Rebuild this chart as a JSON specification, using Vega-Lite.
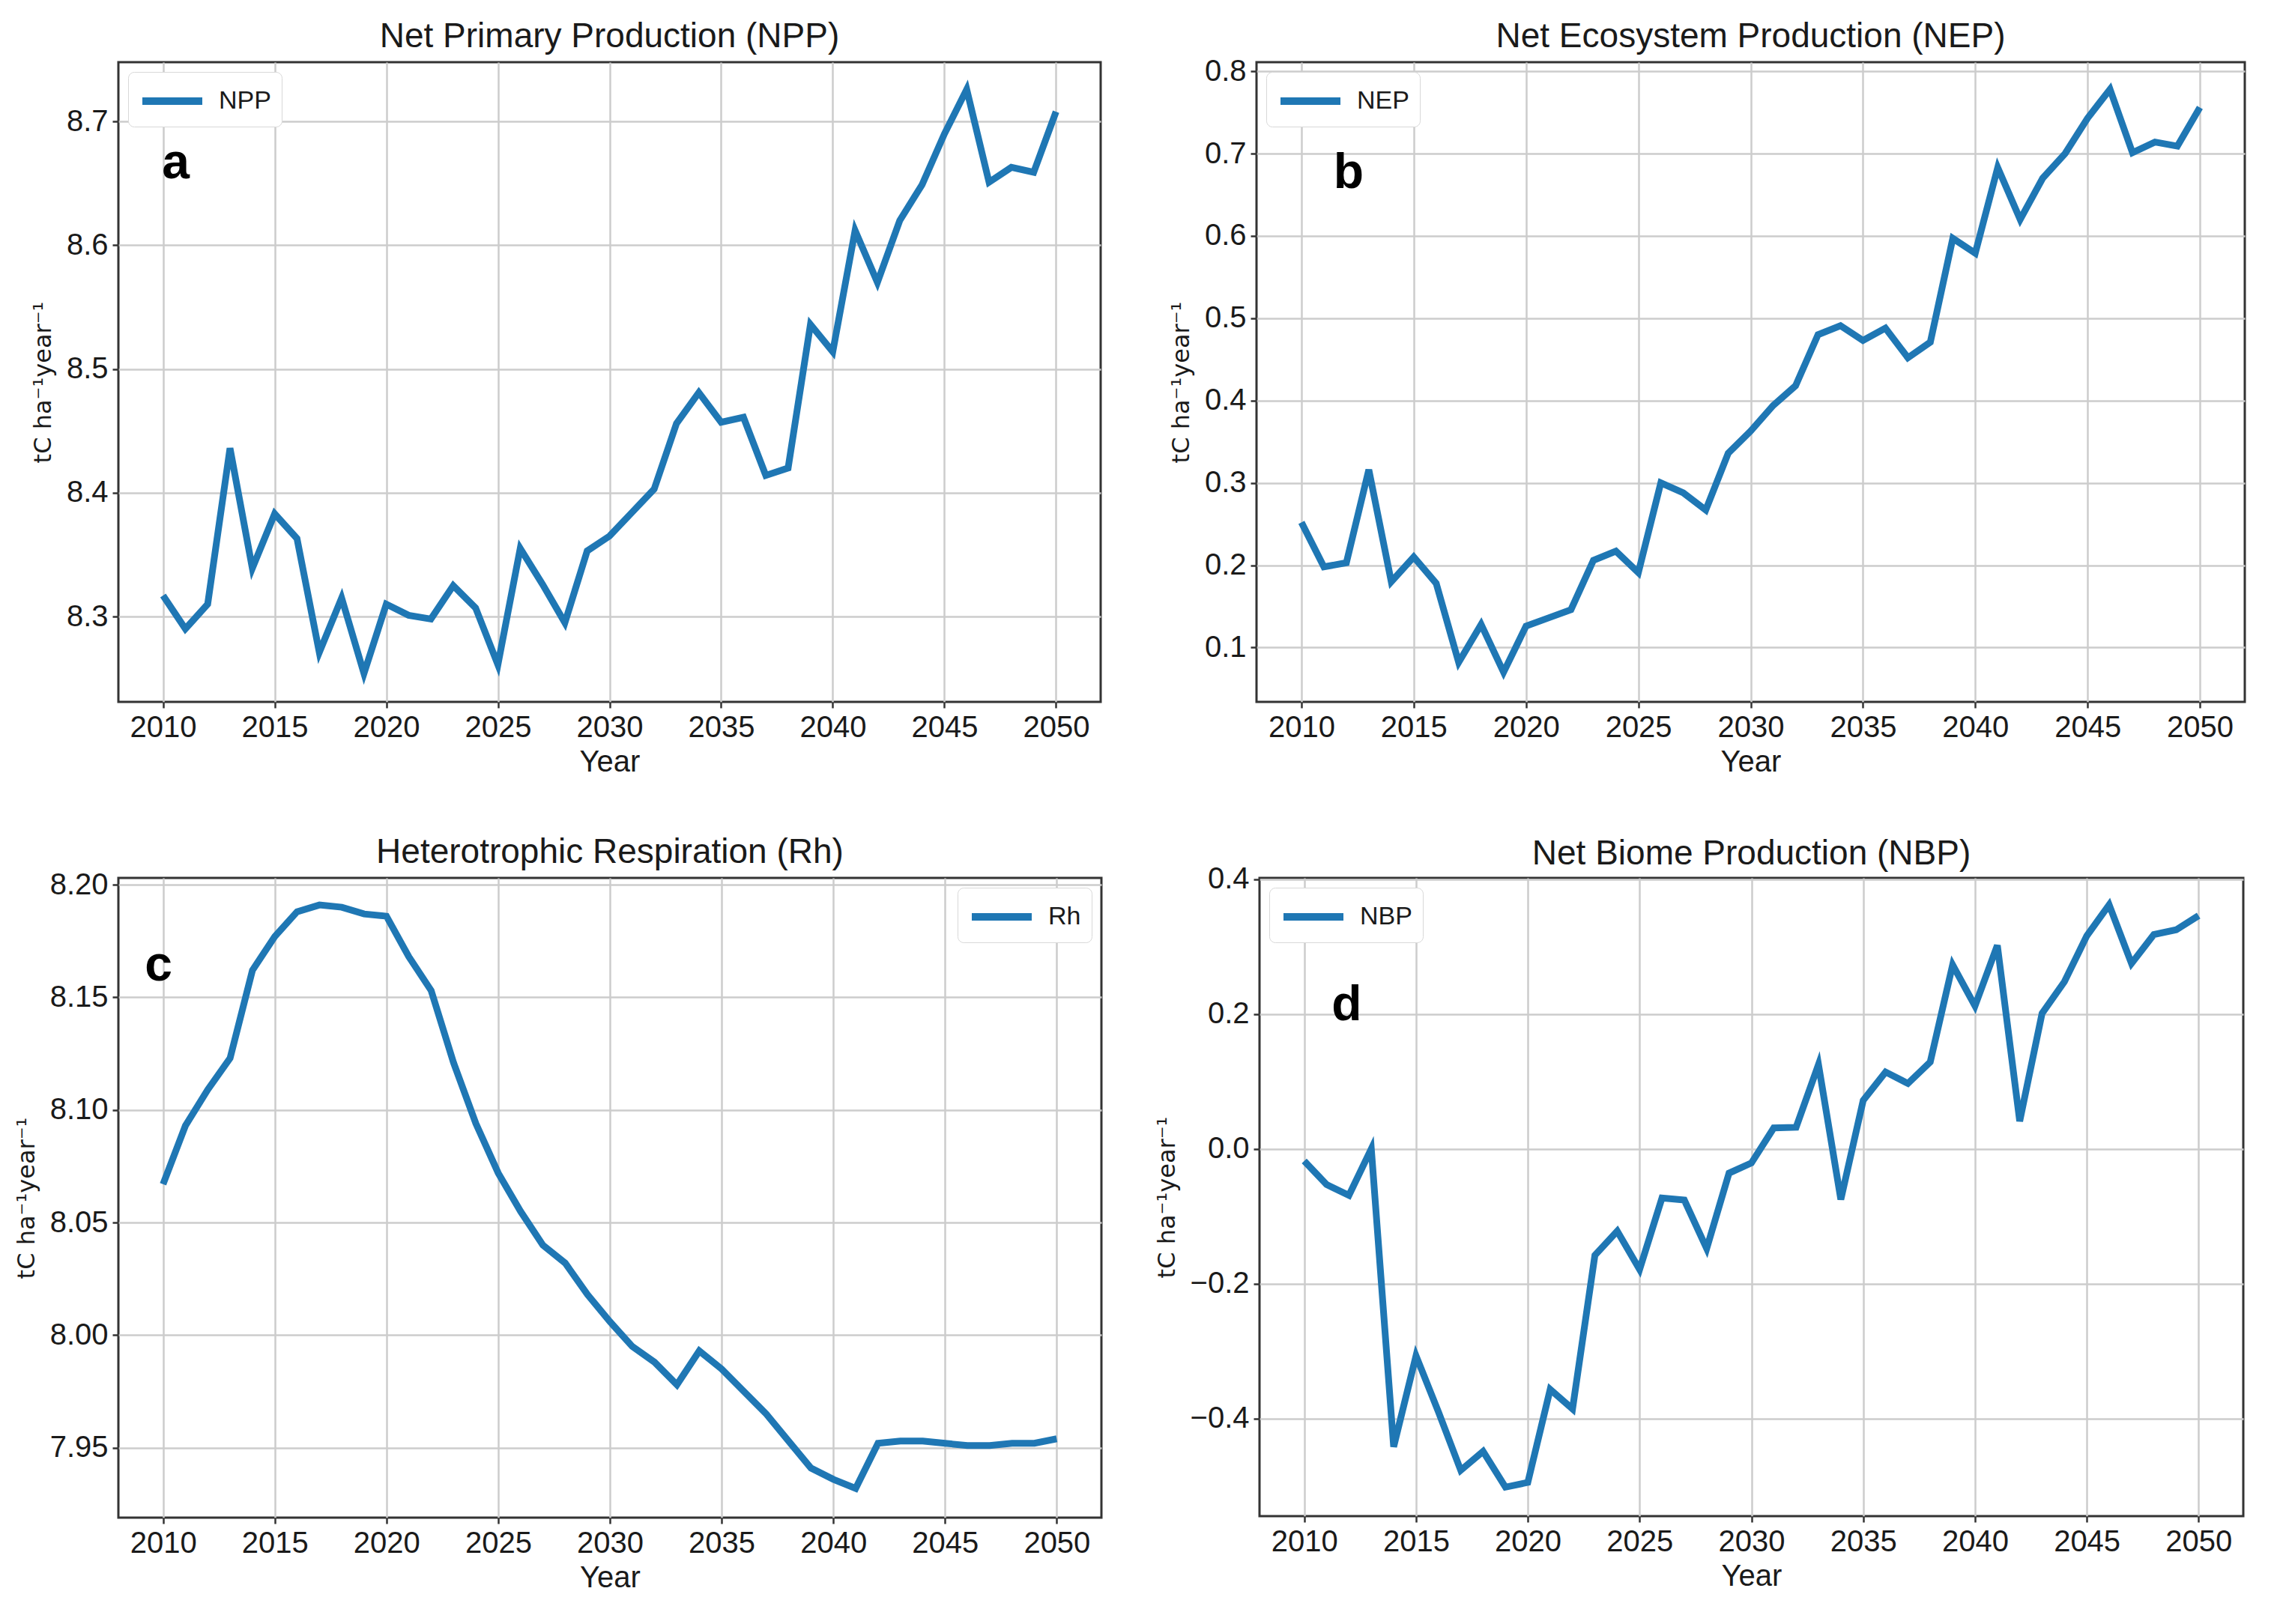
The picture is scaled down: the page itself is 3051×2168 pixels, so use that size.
{
  "$schema": "https://vega.github.io/schema/vega-lite/v6.json",
  "background": "white",
  "padding": {"left": 17, "top": 24, "right": 10, "bottom": 10},
  "config": {
    "font": "Liberation Sans",
    "view": {"stroke": "#333333", "strokeWidth": 3},
    "axis": {
      "domain": false,
      "gridColor": "#cccccc",
      "gridWidth": 2.5,
      "tickColor": "#333333",
      "tickSize": 8,
      "tickWidth": 2.5,
      "labelFont": "Liberation Sans",
      "labelFontSize": 40,
      "labelColor": "#1a1a1a",
      "labelPadding": 6,
      "titleFont": "Liberation Sans",
      "titleFontSize": 40,
      "titleFontWeight": "normal",
      "titleColor": "#1a1a1a"
    },
    "axisY": {"titleFont": "DejaVu Sans", "titleFontSize": 32, "titlePadding": 14},
    "axisX": {"titlePadding": 6},
    "title": {"font": "Liberation Sans", "fontSize": 46, "fontWeight": "normal", "color": "#1a1a1a", "offset": 10, "frame": "group"},
    "legend": {
      "title": null,
      "offset": 13,
      "symbolType": "M-2,0H2",
      "symbolStrokeWidth": 10,
      "symbolSize": 1600,
      "symbolOffset": 20,
      "labelFont": "Liberation Sans",
      "labelFontSize": 34,
      "labelColor": "#1a1a1a",
      "labelOffset": 37,
      "strokeColor": "#d8d8d8",
      "fillColor": "white",
      "padding": 14,
      "cornerRadius": 8
    }
  },
  "resolve": {"scale": {"color": "independent"}, "legend": {"color": "independent"}},
  "spacing": 74,
  "vconcat": [
    {
      "spacing": 87,
      "resolve": {"scale": {"color": "independent"}, "legend": {"color": "independent"}},
      "hconcat": [
        {
          "width": 1311,
          "height": 854,
          "title": {"text": "Net Primary Production (NPP)", "offset": 10},
          "layer": [
            {
              "data": {"values": [
                {"year": 2010, "value": 8.317, "series": "NPP"},
                {"year": 2011, "value": 8.290, "series": "NPP"},
                {"year": 2012, "value": 8.310, "series": "NPP"},
                {"year": 2013, "value": 8.436, "series": "NPP"},
                {"year": 2014, "value": 8.339, "series": "NPP"},
                {"year": 2015, "value": 8.383, "series": "NPP"},
                {"year": 2016, "value": 8.363, "series": "NPP"},
                {"year": 2017, "value": 8.271, "series": "NPP"},
                {"year": 2018, "value": 8.315, "series": "NPP"},
                {"year": 2019, "value": 8.254, "series": "NPP"},
                {"year": 2020, "value": 8.310, "series": "NPP"},
                {"year": 2021, "value": 8.301, "series": "NPP"},
                {"year": 2022, "value": 8.298, "series": "NPP"},
                {"year": 2023, "value": 8.325, "series": "NPP"},
                {"year": 2024, "value": 8.307, "series": "NPP"},
                {"year": 2025, "value": 8.261, "series": "NPP"},
                {"year": 2026, "value": 8.355, "series": "NPP"},
                {"year": 2027, "value": 8.326, "series": "NPP"},
                {"year": 2028, "value": 8.295, "series": "NPP"},
                {"year": 2029, "value": 8.353, "series": "NPP"},
                {"year": 2030, "value": 8.365, "series": "NPP"},
                {"year": 2031, "value": 8.384, "series": "NPP"},
                {"year": 2032, "value": 8.403, "series": "NPP"},
                {"year": 2033, "value": 8.456, "series": "NPP"},
                {"year": 2034, "value": 8.481, "series": "NPP"},
                {"year": 2035, "value": 8.457, "series": "NPP"},
                {"year": 2036, "value": 8.461, "series": "NPP"},
                {"year": 2037, "value": 8.414, "series": "NPP"},
                {"year": 2038, "value": 8.420, "series": "NPP"},
                {"year": 2039, "value": 8.536, "series": "NPP"},
                {"year": 2040, "value": 8.514, "series": "NPP"},
                {"year": 2041, "value": 8.612, "series": "NPP"},
                {"year": 2042, "value": 8.570, "series": "NPP"},
                {"year": 2043, "value": 8.620, "series": "NPP"},
                {"year": 2044, "value": 8.649, "series": "NPP"},
                {"year": 2045, "value": 8.690, "series": "NPP"},
                {"year": 2046, "value": 8.726, "series": "NPP"},
                {"year": 2047, "value": 8.651, "series": "NPP"},
                {"year": 2048, "value": 8.663, "series": "NPP"},
                {"year": 2049, "value": 8.659, "series": "NPP"},
                {"year": 2050, "value": 8.708, "series": "NPP"}
              ]},
              "mark": {"type": "line", "strokeWidth": 9},
              "encoding": {
                "x": {"field": "year", "type": "quantitative", "scale": {"domain": [2008, 2052], "nice": false, "zero": false}, "axis": {"values": [2010, 2015, 2020, 2025, 2030, 2035, 2040, 2045, 2050], "format": "d", "title": "Year"}},
                "y": {"field": "value", "type": "quantitative", "scale": {"domain": [8.231, 8.748], "nice": false, "zero": false}, "axis": {"values": [8.3, 8.4, 8.5, 8.6, 8.7], "format": ".1f", "title": "tC ha⁻¹year⁻¹"}},
                "color": {"field": "series", "type": "nominal", "scale": {"range": ["#1f77b4"]}, "legend": {"orient": "top-left"}}
              }
            },
            {
              "data": {"values": [{}]},
              "mark": {"type": "text", "text": "a", "fontSize": 66, "fontWeight": "bold", "color": "black", "font": "Liberation Sans"},
              "encoding": {"x": {"datum": 2010.57, "type": "quantitative"}, "y": {"datum": 8.666, "type": "quantitative"}}
            }
          ]
        },
        {
          "width": 1319,
          "height": 854,
          "title": {"text": "Net Ecosystem Production (NEP)", "offset": 2},
          "layer": [
            {
              "data": {"values": [
                {"year": 2010, "value": 0.252, "series": "NEP"},
                {"year": 2011, "value": 0.198, "series": "NEP"},
                {"year": 2012, "value": 0.203, "series": "NEP"},
                {"year": 2013, "value": 0.316, "series": "NEP"},
                {"year": 2014, "value": 0.180, "series": "NEP"},
                {"year": 2015, "value": 0.210, "series": "NEP"},
                {"year": 2016, "value": 0.178, "series": "NEP"},
                {"year": 2017, "value": 0.082, "series": "NEP"},
                {"year": 2018, "value": 0.128, "series": "NEP"},
                {"year": 2019, "value": 0.070, "series": "NEP"},
                {"year": 2020, "value": 0.126, "series": "NEP"},
                {"year": 2021, "value": 0.136, "series": "NEP"},
                {"year": 2022, "value": 0.146, "series": "NEP"},
                {"year": 2023, "value": 0.206, "series": "NEP"},
                {"year": 2024, "value": 0.217, "series": "NEP"},
                {"year": 2025, "value": 0.191, "series": "NEP"},
                {"year": 2026, "value": 0.300, "series": "NEP"},
                {"year": 2027, "value": 0.288, "series": "NEP"},
                {"year": 2028, "value": 0.267, "series": "NEP"},
                {"year": 2029, "value": 0.336, "series": "NEP"},
                {"year": 2030, "value": 0.363, "series": "NEP"},
                {"year": 2031, "value": 0.394, "series": "NEP"},
                {"year": 2032, "value": 0.418, "series": "NEP"},
                {"year": 2033, "value": 0.480, "series": "NEP"},
                {"year": 2034, "value": 0.491, "series": "NEP"},
                {"year": 2035, "value": 0.473, "series": "NEP"},
                {"year": 2036, "value": 0.488, "series": "NEP"},
                {"year": 2037, "value": 0.452, "series": "NEP"},
                {"year": 2038, "value": 0.471, "series": "NEP"},
                {"year": 2039, "value": 0.597, "series": "NEP"},
                {"year": 2040, "value": 0.579, "series": "NEP"},
                {"year": 2041, "value": 0.683, "series": "NEP"},
                {"year": 2042, "value": 0.620, "series": "NEP"},
                {"year": 2043, "value": 0.670, "series": "NEP"},
                {"year": 2044, "value": 0.700, "series": "NEP"},
                {"year": 2045, "value": 0.743, "series": "NEP"},
                {"year": 2046, "value": 0.778, "series": "NEP"},
                {"year": 2047, "value": 0.701, "series": "NEP"},
                {"year": 2048, "value": 0.714, "series": "NEP"},
                {"year": 2049, "value": 0.709, "series": "NEP"},
                {"year": 2050, "value": 0.756, "series": "NEP"}
              ]},
              "mark": {"type": "line", "strokeWidth": 9},
              "encoding": {
                "x": {"field": "year", "type": "quantitative", "scale": {"domain": [2008, 2052], "nice": false, "zero": false}, "axis": {"values": [2010, 2015, 2020, 2025, 2030, 2035, 2040, 2045, 2050], "format": "d", "title": "Year"}},
                "y": {"field": "value", "type": "quantitative", "scale": {"domain": [0.034, 0.811], "nice": false, "zero": false}, "axis": {"values": [0.1, 0.2, 0.3, 0.4, 0.5, 0.6, 0.7, 0.8], "format": ".1f", "title": "tC ha⁻¹year⁻¹"}},
                "color": {"field": "series", "type": "nominal", "scale": {"range": ["#1f77b4"]}, "legend": {"orient": "top-left"}}
              }
            },
            {
              "data": {"values": [{}]},
              "mark": {"type": "text", "text": "b", "fontSize": 66, "fontWeight": "bold", "color": "black", "font": "Liberation Sans"},
              "encoding": {"x": {"datum": 2012.1, "type": "quantitative"}, "y": {"datum": 0.676, "type": "quantitative"}}
            }
          ]
        }
      ]
    },
    {
      "spacing": 67,
      "resolve": {"scale": {"color": "independent"}, "legend": {"color": "independent"}},
      "hconcat": [
        {
          "width": 1312,
          "height": 854,
          "title": {"text": "Heterotrophic Respiration (Rh)", "offset": -1},
          "layer": [
            {
              "data": {"values": [
                {"year": 2010, "value": 8.067, "series": "Rh"},
                {"year": 2011, "value": 8.093, "series": "Rh"},
                {"year": 2012, "value": 8.109, "series": "Rh"},
                {"year": 2013, "value": 8.123, "series": "Rh"},
                {"year": 2014, "value": 8.162, "series": "Rh"},
                {"year": 2015, "value": 8.177, "series": "Rh"},
                {"year": 2016, "value": 8.188, "series": "Rh"},
                {"year": 2017, "value": 8.191, "series": "Rh"},
                {"year": 2018, "value": 8.190, "series": "Rh"},
                {"year": 2019, "value": 8.187, "series": "Rh"},
                {"year": 2020, "value": 8.186, "series": "Rh"},
                {"year": 2021, "value": 8.168, "series": "Rh"},
                {"year": 2022, "value": 8.153, "series": "Rh"},
                {"year": 2023, "value": 8.121, "series": "Rh"},
                {"year": 2024, "value": 8.094, "series": "Rh"},
                {"year": 2025, "value": 8.072, "series": "Rh"},
                {"year": 2026, "value": 8.055, "series": "Rh"},
                {"year": 2027, "value": 8.040, "series": "Rh"},
                {"year": 2028, "value": 8.032, "series": "Rh"},
                {"year": 2029, "value": 8.018, "series": "Rh"},
                {"year": 2030, "value": 8.006, "series": "Rh"},
                {"year": 2031, "value": 7.995, "series": "Rh"},
                {"year": 2032, "value": 7.988, "series": "Rh"},
                {"year": 2033, "value": 7.978, "series": "Rh"},
                {"year": 2034, "value": 7.993, "series": "Rh"},
                {"year": 2035, "value": 7.985, "series": "Rh"},
                {"year": 2036, "value": 7.975, "series": "Rh"},
                {"year": 2037, "value": 7.965, "series": "Rh"},
                {"year": 2038, "value": 7.953, "series": "Rh"},
                {"year": 2039, "value": 7.941, "series": "Rh"},
                {"year": 2040, "value": 7.936, "series": "Rh"},
                {"year": 2041, "value": 7.932, "series": "Rh"},
                {"year": 2042, "value": 7.952, "series": "Rh"},
                {"year": 2043, "value": 7.953, "series": "Rh"},
                {"year": 2044, "value": 7.953, "series": "Rh"},
                {"year": 2045, "value": 7.952, "series": "Rh"},
                {"year": 2046, "value": 7.951, "series": "Rh"},
                {"year": 2047, "value": 7.951, "series": "Rh"},
                {"year": 2048, "value": 7.952, "series": "Rh"},
                {"year": 2049, "value": 7.952, "series": "Rh"},
                {"year": 2050, "value": 7.954, "series": "Rh"}
              ]},
              "mark": {"type": "line", "strokeWidth": 9},
              "encoding": {
                "x": {"field": "year", "type": "quantitative", "scale": {"domain": [2008, 2052], "nice": false, "zero": false}, "axis": {"values": [2010, 2015, 2020, 2025, 2030, 2035, 2040, 2045, 2050], "format": "d", "title": "Year"}},
                "y": {"field": "value", "type": "quantitative", "scale": {"domain": [7.919, 8.203], "nice": false, "zero": false}, "axis": {"values": [7.95, 8.0, 8.05, 8.1, 8.15, 8.2], "format": ".2f", "title": "tC ha⁻¹year⁻¹"}},
                "color": {"field": "series", "type": "nominal", "scale": {"range": ["#1f77b4"]}, "legend": {"orient": "top-right"}}
              }
            },
            {
              "data": {"values": [{}]},
              "mark": {"type": "text", "text": "c", "fontSize": 66, "fontWeight": "bold", "color": "black", "font": "Liberation Sans"},
              "encoding": {"x": {"datum": 2009.8, "type": "quantitative"}, "y": {"datum": 8.164, "type": "quantitative"}}
            }
          ]
        },
        {
          "width": 1313,
          "height": 852,
          "title": {"text": "Net Biome Production (NBP)", "offset": -10},
          "layer": [
            {
              "data": {"values": [
                {"year": 2010, "value": -0.018, "series": "NBP"},
                {"year": 2011, "value": -0.053, "series": "NBP"},
                {"year": 2012, "value": -0.069, "series": "NBP"},
                {"year": 2013, "value": 0.000, "series": "NBP"},
                {"year": 2014, "value": -0.442, "series": "NBP"},
                {"year": 2015, "value": -0.307, "series": "NBP"},
                {"year": 2016, "value": -0.390, "series": "NBP"},
                {"year": 2017, "value": -0.477, "series": "NBP"},
                {"year": 2018, "value": -0.449, "series": "NBP"},
                {"year": 2019, "value": -0.502, "series": "NBP"},
                {"year": 2020, "value": -0.495, "series": "NBP"},
                {"year": 2021, "value": -0.357, "series": "NBP"},
                {"year": 2022, "value": -0.386, "series": "NBP"},
                {"year": 2023, "value": -0.158, "series": "NBP"},
                {"year": 2024, "value": -0.122, "series": "NBP"},
                {"year": 2025, "value": -0.179, "series": "NBP"},
                {"year": 2026, "value": -0.073, "series": "NBP"},
                {"year": 2027, "value": -0.076, "series": "NBP"},
                {"year": 2028, "value": -0.148, "series": "NBP"},
                {"year": 2029, "value": -0.036, "series": "NBP"},
                {"year": 2030, "value": -0.021, "series": "NBP"},
                {"year": 2031, "value": 0.031, "series": "NBP"},
                {"year": 2032, "value": 0.032, "series": "NBP"},
                {"year": 2033, "value": 0.125, "series": "NBP"},
                {"year": 2034, "value": -0.075, "series": "NBP"},
                {"year": 2035, "value": 0.072, "series": "NBP"},
                {"year": 2036, "value": 0.114, "series": "NBP"},
                {"year": 2037, "value": 0.097, "series": "NBP"},
                {"year": 2038, "value": 0.129, "series": "NBP"},
                {"year": 2039, "value": 0.273, "series": "NBP"},
                {"year": 2040, "value": 0.212, "series": "NBP"},
                {"year": 2041, "value": 0.302, "series": "NBP"},
                {"year": 2042, "value": 0.041, "series": "NBP"},
                {"year": 2043, "value": 0.201, "series": "NBP"},
                {"year": 2044, "value": 0.248, "series": "NBP"},
                {"year": 2045, "value": 0.316, "series": "NBP"},
                {"year": 2046, "value": 0.362, "series": "NBP"},
                {"year": 2047, "value": 0.275, "series": "NBP"},
                {"year": 2048, "value": 0.318, "series": "NBP"},
                {"year": 2049, "value": 0.325, "series": "NBP"},
                {"year": 2050, "value": 0.346, "series": "NBP"}
              ]},
              "mark": {"type": "line", "strokeWidth": 9},
              "encoding": {
                "x": {"field": "year", "type": "quantitative", "scale": {"domain": [2008, 2052], "nice": false, "zero": false}, "axis": {"values": [2010, 2015, 2020, 2025, 2030, 2035, 2040, 2045, 2050], "format": "d", "title": "Year"}},
                "y": {"field": "value", "type": "quantitative", "scale": {"domain": [-0.545, 0.402], "nice": false, "zero": false}, "axis": {"values": [-0.4, -0.2, 0.0, 0.2, 0.4], "format": ".1f", "title": "tC ha⁻¹year⁻¹"}},
                "color": {"field": "series", "type": "nominal", "scale": {"range": ["#1f77b4"]}, "legend": {"orient": "top-left"}}
              }
            },
            {
              "data": {"values": [{}]},
              "mark": {"type": "text", "text": "d", "fontSize": 66, "fontWeight": "bold", "color": "black", "font": "Liberation Sans"},
              "encoding": {"x": {"datum": 2011.9, "type": "quantitative"}, "y": {"datum": 0.213, "type": "quantitative"}}
            }
          ]
        }
      ]
    }
  ]
}
